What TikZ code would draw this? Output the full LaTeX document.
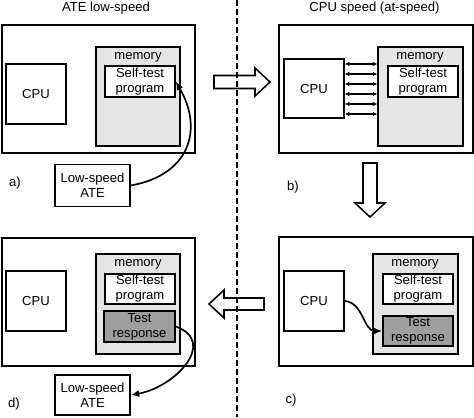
\documentclass[tikz,border=0pt]{standalone}
\usepackage{fontspec}
\setmainfont{Liberation Sans}
\usetikzlibrary{positioning,arrows.meta}

\def\px{0.025cm}

\begin{document}
\begin{tikzpicture}[x=\px,y=\px,line width=1.1pt,font=\fontsize{9.3}{10.6}\selectfont]
	\tikzstyle{box}=[draw=black,fill=white,inner sep=0pt,align=center]
	\tikzstyle{frame}=[box, minimum width=193*\px, minimum height=128*\px]
	\tikzstyle{cpu}=[box, minimum size=60*\px]
	\tikzstyle{mem}=[box, fill=black!10, minimum width=84*\px, minimum height=99*\px, line width=1pt]
	\tikzstyle{prog}=[box, minimum width=70*\px, minimum height=31*\px]
	\tikzstyle{resp}=[prog, fill=black!38]
	\tikzstyle{ate}=[box, minimum width=75*\px, minimum height=42*\px]
	\tikzstyle{hollow}=[draw=black, fill=white, line join=miter]
	\tikzstyle{bus}=[{Latex[length=3.2pt,width=3.2pt]}-{Latex[length=3.2pt,width=3.2pt]}, line width=0.9pt]
	\tikzstyle{flow}=[-{Latex[length=6pt,width=5pt]}, line width=1.2pt]
	
	\useasboundingbox (0,0) rectangle (474,-417);
	
	% Titles of the two halves
	\node (ttlA) at (106,-8) {ATE low-speed};
	\node (ttlB) at (374.5,-8) {CPU speed (at-speed)};
	
	% Draw the four frames
	\node[frame] (frameA) at (98.5,-89) {};
	\node[frame, minimum width=194*\px] (frameB) at (376,-89) {};
	\node[frame, minimum width=194*\px, minimum height=129*\px] (frameC) at (376,-301.5) {};
	\node[frame] (frameD) at (98.5,-302) {};
	
	% CPU boxes
	\node[cpu] (cpuA) at (36,-94) {CPU};
	\node[cpu, minimum height=59*\px] (cpuB) at (314,-88.5) {CPU};
	\node[cpu] (cpuC) at (314,-301) {CPU};
	\node[cpu] (cpuD) at (36,-301) {CPU};
	
	% Memory boxes with their labels
	\node[mem] (memA) at (138,-96.5) {};
	\node[mem, minimum width=85*\px] (memB) at (420.5,-96.5) {};
	\node[mem, minimum width=85*\px, minimum height=100*\px] (memC) at (415.5,-304) {};
	\node[mem, minimum height=100*\px] (memD) at (138,-304) {};
	\foreach \name/\x/\y in {A/138/57,B/420/57,C/415/264,D/138/264}
	\node (lab-\name) at (\x,-\y) {memory};
	
	% Self-test programs
	\node[prog] (progA) at (140,-81.5) {Self-test\\program};
	\node[prog] (progB) at (423,-81.5) {Self-test\\program};
	\node[prog, minimum height=30*\px] (progC) at (418,-289) {Self-test\\program};
	\node[prog, minimum height=30*\px] (progD) at (140,-289) {Self-test\\program};
	
	% Test responses
	\node[resp, minimum height=30*\px] (respC) at (418,-331) {Test\\response};
	\node[resp, minimum width=71*\px] (respD) at (139.5,-326.5) {Test\\response};
	
	% Low-speed testers
	\node[ate] (ateA) at (92.5,-185.5) {Low-speed\\ATE};
	\node[ate, minimum height=40*\px] (ateD) at (92.5,-395) {Low-speed\\ATE};
	
	% Step labels
	\node (stepA) at (15,-183) {a)};
	\node (stepB) at (293,-187) {b)};
	\node (stepC) at (291,-400) {c)};
	\node (stepD) at (14,-404) {d)};
	
	% Connect CPU and memory at speed
	\foreach \y in {64,74,...,114}
	\draw[bus] (cpuB.east |- 0,-\y) -- (memB.west |- 0,-\y);
	
	% Data flow arrows
	\draw[flow] (ateA.east) to[out=10,in=-60,looseness=1.3] (progA.east);
	\draw[flow] (cpuC.east) to[out=-5,in=180] (respC.west);
	\draw[flow] (respD.east) to[out=-20,in=10,looseness=1.4] (ateD.east);
	
	% Hollow arrows between the steps
	\draw[hollow] (214,-75.5) -- (255,-75.5) -- (255,-68) -- (270,-82) -- (255,-96) -- (255,-88.5) -- (214,-88.5) -- cycle;
	\draw[hollow] (363,-163) -- (377,-163) -- (377,-203) -- (385,-203) -- (370,-217) -- (355,-203) -- (363,-203) -- cycle;
	\draw[hollow] (264,-298) -- (224,-298) -- (224,-290) -- (209,-304) -- (224,-318) -- (224,-310) -- (264,-310) -- cycle;
	
	% Divider between the two halves
	\draw[line width=1.1pt, dash pattern=on 4.3pt off 2.1pt] (237,0) -- (237,-417);
\end{tikzpicture}
\end{document}
